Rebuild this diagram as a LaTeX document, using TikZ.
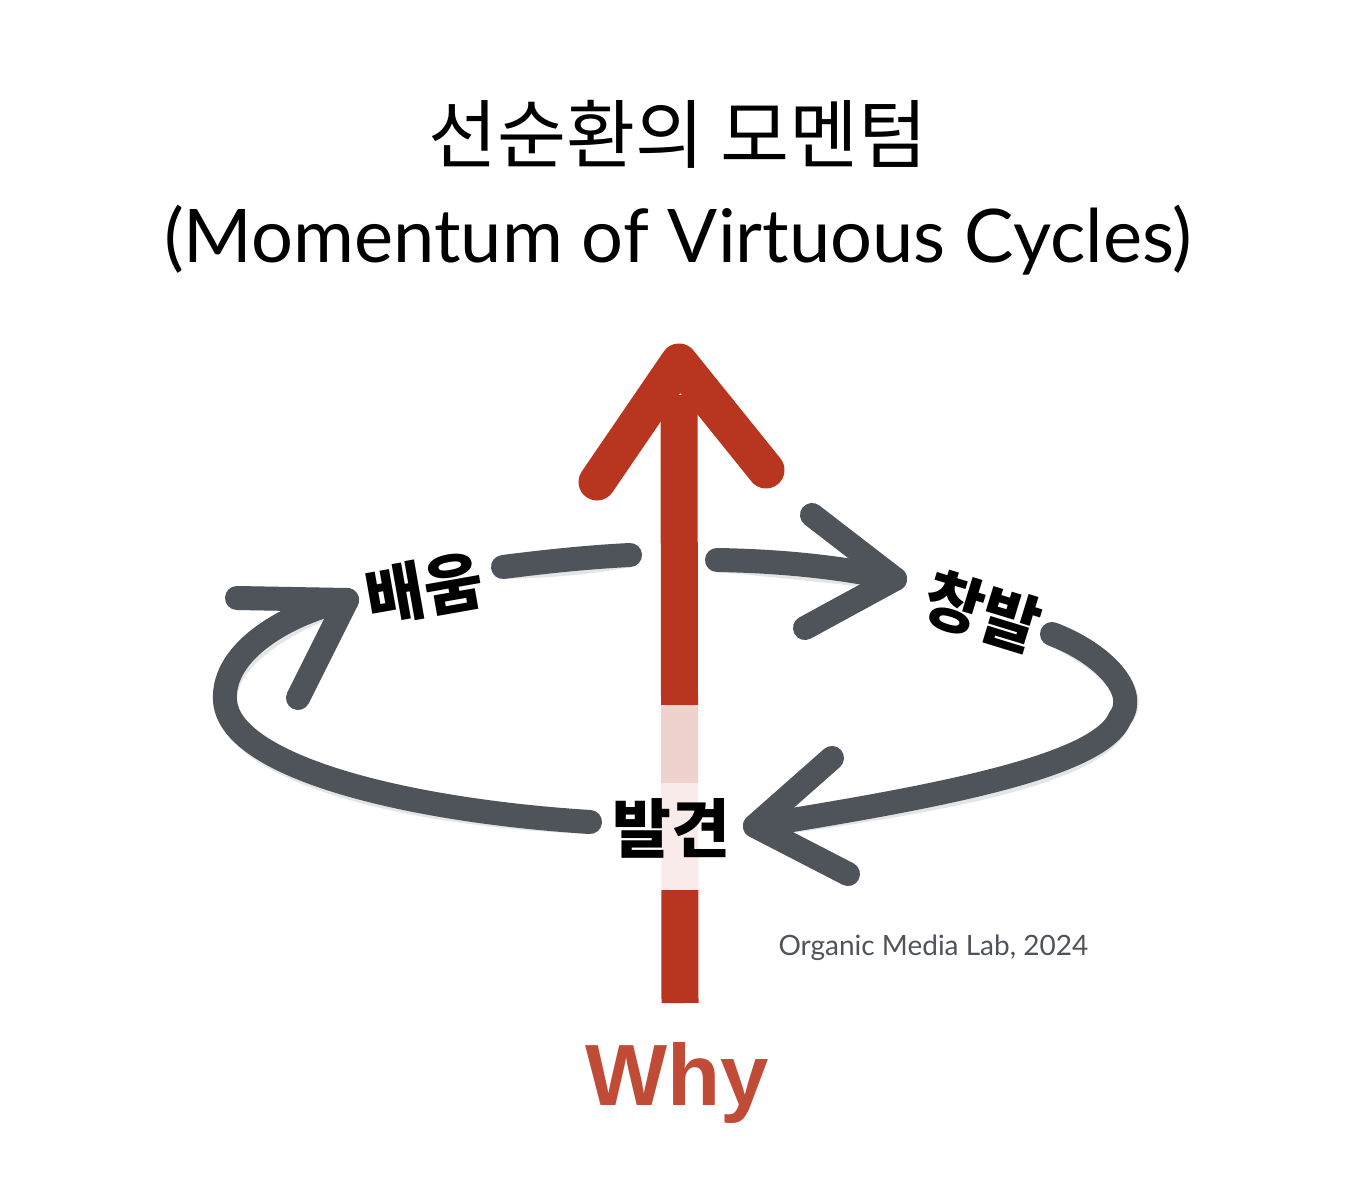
\documentclass[tikz,border=0pt]{standalone}
\usepackage{fontspec}
\setmainfont{Lato}
\newfontfamily\kor{Noto Sans CJK KR}
\newfontfamily\why{Liberation Sans}
\usetikzlibrary{positioning}
\definecolor{loopgray}{HTML}{4F535A}
\definecolor{shadegray}{HTML}{E4E5E7}
\definecolor{arrowred}{HTML}{B83620}
\definecolor{whyred}{HTML}{C04B36}

\begin{document}
\begin{tikzpicture}[x=1pt, y=-1pt,
	g/.style = {draw=loopgray, line width=24pt, line cap=round, line join=round},
	sh/.style = {draw=shadegray, line width=24pt, line cap=round, line join=round, shift={(3,5)}},
	rd/.style = {draw=arrowred, line width=37pt, line join=round},
	lbl/.style = {font=\kor\bfseries\fontsize{64}{64}\selectfont, inner sep=0pt},
	fade/.style = {fill=white}
	]
	\useasboundingbox (0,0) rectangle (1350,1180);
	
	% === === Title === ===
	\node	(ttl1)	at	(678, 134)	{\kor\fontsize{75}{75}\selectfont 선순환의 모멘텀};
	\node	(ttl2)	at	(678, 240)	{\fontsize{74}{74}\selectfont (Momentum of Virtuous Cycles)};
	
	% === === Points === ===
	\coordinate	(tl1)	at	(503, 567);
	\coordinate	(tl2)	at	(630, 555);
	\coordinate	(tr1)	at	(717, 560);
	\coordinate	(trt)	at	(895, 579);
	\coordinate	(tra)	at	(812, 515);
	\coordinate	(trb)	at	(805, 628);
	
	\coordinate	(rl1)	at	(1052, 634);
	\coordinate	(rlx)	at	(1120, 718);
	\coordinate	(rlt)	at	(755, 826);
	\coordinate	(rla)	at	(832, 758);
	\coordinate	(rlb)	at	(848, 874);
	
	\coordinate	(ll1)	at	(590, 822);
	\coordinate	(llx)	at	(225, 700);
	\coordinate	(llt)	at	(347, 600);
	\coordinate	(lla)	at	(237, 598);
	\coordinate	(llb)	at	(298, 698);
	
	\coordinate	(up0)	at	(680, 1003);
	\coordinate	(upt)	at	(679, 362);
	\coordinate	(upa)	at	(597, 482);
	\coordinate	(upb)	at	(766, 470);
	
	% === === Loop === ===
	\foreach \st in {sh, g} {
		\draw[\st]	(tl1)	..	controls	(550, 561) and (590, 557)	..	(tl2);
		\draw[\st]	(tr1)	..	controls	(780, 561) and (840, 567)	..	(trt);
		\draw[\st]	(tra)	--	(trt)	--	(trb);
		\draw[\st]	(rl1)	..	controls	(1100, 652) and (1140, 690)	..	(rlx)
					..	controls	(1100, 765) and (950, 795)	..	(rlt);
		\draw[\st]	(rla)	--	(rlt)	--	(rlb);
		\draw[\st]	(ll1)	..	controls	(400, 810) and (228, 765)	..	(llx)
					..	controls	(222, 650) and (290, 612)	..	(llt);
		\draw[\st]	(lla)	--	(llt)	--	(llb);
	}
	
	% === === Why arrow === ===
	\draw[rd]	(up0)	--	(679, 395);
	\draw[rd, line cap=round]	(upa)	--	(upt)	--	(upb);
	\fill[fade, opacity=0.78]	(659, 705)	rectangle	(701, 783);
	\fill[fade, opacity=0.9]	(659, 783)	rectangle	(701, 890);
	
	% === === Labels === ===
	\node[lbl, rotate=10]	(lrn)	at	(424, 589)	{배움};
	\node[lbl, rotate=-17]	(emg)	at	(983, 612)	{창발};
	\node[lbl]				(dsc)	at	(671, 828)	{발견};
	
	\node[anchor=base west, text=loopgray, font=\fontsize{28}{28}\selectfont]
		(crd)	at	(775, 955)	{Organic Media Lab, 2024};
	\node[anchor=base, text=whyred, font=\why\bfseries\fontsize{87}{87}\selectfont]
		(why)	at	(677, 1105)	{Why};
	
\end{tikzpicture}
\end{document}
